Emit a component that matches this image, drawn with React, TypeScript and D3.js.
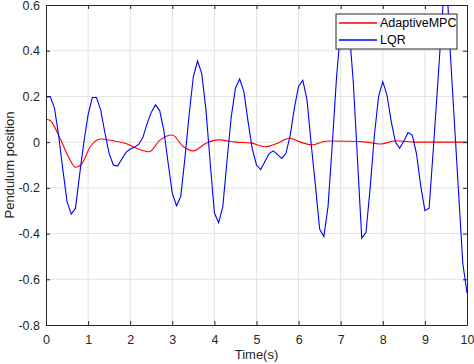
import React, {useEffect, useRef} from 'react'
import {select, scaleLinear, axisLeft, axisBottom, axisTop, axisRight, line, curveMonotoneX, curveLinear} from 'd3'

// time axis ticks / value axis ticks
const xTicks = [0, 1, 2, 3, 4, 5, 6, 7, 8, 9, 10]
const yTicks = [-0.8, -0.6, -0.4, -0.2, 0, 0.2, 0.4, 0.6]

// LQR response (sampled every 0.1 s, drawn as polyline)
const lqrT = [
    0, 0.1, 0.2, 0.3, 0.4, 0.5, 0.6, 0.7, 0.8, 0.9,
    1.0, 1.1, 1.2, 1.3, 1.4, 1.5, 1.6, 1.7, 1.8, 1.9,
    2.0, 2.1, 2.2, 2.3, 2.4, 2.5, 2.6, 2.7, 2.8, 2.9,
    3.0, 3.1, 3.2, 3.3, 3.4, 3.5, 3.6, 3.7, 3.8, 3.9,
    4.0, 4.1, 4.2, 4.3, 4.4, 4.5, 4.6, 4.7, 4.8, 4.9,
    5.0, 5.1, 5.2, 5.3, 5.4, 5.5, 5.6, 5.7, 5.8, 5.9,
    6.0, 6.1, 6.2, 6.3, 6.4, 6.5, 6.6, 6.7, 6.8, 6.9,
    7.0, 7.1, 7.2, 7.3, 7.4, 7.5, 7.6, 7.7, 7.8, 7.9,
    8.0, 8.1, 8.2, 8.3, 8.4, 8.5, 8.6, 8.7, 8.8, 8.9,
    9.0, 9.1, 9.2, 9.3, 9.4, 9.5, 9.6, 9.7, 9.8, 9.9, 10.0
]
const lqrY = [
    0.20, 0.20, 0.15, 0.03, -0.12, -0.26, -0.315, -0.29, -0.14, 0.0,
    0.12, 0.195, 0.195, 0.14, 0.04, -0.05, -0.10, -0.105, -0.075, -0.045,
    -0.03, -0.022, -0.01, 0.02, 0.08, 0.13, 0.163, 0.138, 0.05, -0.09,
    -0.224, -0.278, -0.238, -0.07, 0.12, 0.287, 0.355, 0.30, 0.14, -0.09,
    -0.31, -0.352, -0.282, -0.08, 0.11, 0.236, 0.276, 0.221, 0.09, -0.03,
    -0.10, -0.12, -0.085, -0.05, -0.038, -0.055, -0.071, -0.049, 0.03, 0.15,
    0.245, 0.27, 0.185, -0.01, -0.19, -0.38, -0.413, -0.28, -0.01, 0.28,
    0.50, 0.55, 0.50, 0.26, -0.08, -0.42, -0.396, -0.2, 0.03, 0.2,
    0.265, 0.205, 0.09, 0.0, -0.027, 0.005, 0.042, 0.031, -0.05, -0.19,
    -0.30, -0.289, -0.03, 0.24, 0.52, 0.78, 0.40, 0.09, -0.22, -0.53, -0.66
]

// AdaptiveMPC response (smooth)
const mpcT = [0, 0.1, 0.2, 0.35, 0.55, 0.7, 0.85, 1.05, 1.3, 1.6, 1.9, 2.15, 2.45, 2.7, 3.0, 3.25, 3.5, 3.8, 4.1, 4.5, 4.85, 5.2, 5.5, 5.78, 6.05, 6.3, 6.7, 7.2, 7.6, 7.95, 8.3, 8.8, 9.3, 10]
const mpcY = [0.10, 0.095, 0.068, 0.01, -0.07, -0.11, -0.095, -0.02, 0.014, 0.006, -0.006, -0.027, -0.042, 0.008, 0.031, -0.018, -0.038, -0.005, 0.01, 0.0, -0.003, -0.02, -0.005, 0.017, 0.0, -0.012, 0.005, 0.004, 0.0, -0.008, 0.006, 0.0, 0.0, 0.0]

const seriesNames = ['AdaptiveMPC', 'LQR']
const colors = ['#ff0000', '#0000ff']

export default function App() {
    const ref = useRef(null)

    useEffect(() => {
        const width = 474
        const height = 364
        const m = {top: 5, left: 46, right: 7, bottom: 39}
        const pw = width - m.left - m.right
        const ph = height - m.top - m.bottom
        const font = 'Arial, "Liberation Sans", Helvetica, sans-serif'
        const axisColor = '#262626'

        const root = select(ref.current)
        root.selectAll('*').remove()
        const svg = root.append('svg')
            .attr('width', width)
            .attr('height', height)
            .style('position', 'absolute')
            .style('left', 0)
            .style('top', 0)
            .style('background', '#fff')

        const x = scaleLinear().domain([0, 10]).range([0, pw])
        const y = scaleLinear().domain([-0.8, 0.6]).range([ph, 0])

        svg.append('defs').append('clipPath').attr('id', 'plot-clip')
            .append('rect').attr('width', pw).attr('height', ph)

        const g = svg.append('g').attr('transform', `translate(${m.left},${m.top})`)

        // grid
        g.append('g').selectAll('line').data(xTicks.slice(1, -1)).enter().append('line')
            .attr('x1', d => x(d)).attr('x2', d => x(d)).attr('y1', 0).attr('y2', ph)
            .attr('stroke', '#e3e3e3').attr('stroke-width', 1)
        g.append('g').selectAll('line').data(yTicks.slice(1, -1)).enter().append('line')
            .attr('y1', d => y(d)).attr('y2', d => y(d)).attr('x1', 0).attr('x2', pw)
            .attr('stroke', '#e3e3e3').attr('stroke-width', 1)

        // lines
        const plot = g.append('g').attr('clip-path', 'url(#plot-clip)')
        const mpc = mpcT.map((t, i) => [t, mpcY[i]])
        const lqr = lqrT.map((t, i) => [t, lqrY[i]])
        plot.append('path').datum(mpc)
            .attr('fill', 'none').attr('stroke', colors[0]).attr('stroke-width', 1.1)
            .attr('d', line().x(d => x(d[0])).y(d => y(d[1])).curve(curveMonotoneX))
        plot.append('path').datum(lqr)
            .attr('fill', 'none').attr('stroke', colors[1]).attr('stroke-width', 1.1)
            .attr('d', line().x(d => x(d[0])).y(d => y(d[1])).curve(curveLinear))

        // axes, MATLAB style ticks pointing inward on all four sides
        const styleAxis = (sel) => {
            sel.selectAll('path').attr('stroke', axisColor)
            sel.selectAll('line').attr('stroke', axisColor)
            sel.selectAll('text').attr('fill', axisColor).style('font-family', font).style('font-size', '12.5px')
            sel.attr('font-size', null).attr('font-family', null)
        }
        const fmt = d => (d === 0 ? '0' : String(d))

        g.append('g').attr('transform', `translate(0,${ph})`)
            .call(axisBottom(x).tickValues(xTicks).tickSize(-4).tickSizeOuter(0).tickPadding(10).tickFormat(fmt))
            .call(styleAxis)
        g.append('g')
            .call(axisLeft(y).tickValues(yTicks).tickSize(-4).tickSizeOuter(0).tickPadding(6).tickFormat(fmt))
            .call(styleAxis)
        g.append('g')
            .call(axisTop(x).tickValues(xTicks).tickSize(-4).tickSizeOuter(0).tickFormat(() => ''))
            .call(styleAxis)
        g.append('g').attr('transform', `translate(${pw},0)`)
            .call(axisRight(y).tickValues(yTicks).tickSize(-4).tickSizeOuter(0).tickFormat(() => ''))
            .call(styleAxis)

        // axis titles
        svg.append('text')
            .attr('x', m.left + pw / 2).attr('y', 359)
            .attr('text-anchor', 'middle')
            .style('font-family', font).style('font-size', '13px').attr('fill', axisColor)
            .text('Time(s)')
        svg.append('text')
            .attr('transform', `translate(14,${m.top + ph / 2}) rotate(-90)`)
            .attr('text-anchor', 'middle')
            .style('font-family', font).style('font-size', '13px').attr('fill', axisColor)
            .text('Pendulum position')

        // legend
        const legendData = seriesNames.map((name, i) => ({name, color: colors[i], row: i}))
        const lg = svg.append('g').attr('transform', 'translate(336,14)')
        lg.append('rect').attr('width', 121).attr('height', 35)
            .attr('fill', '#fff').attr('stroke', axisColor).attr('stroke-width', 1)
        legendData.forEach(d => {
            const item = lg.append('g').attr('transform', `translate(0,${9 + d.row * 17})`)
            item.append('line').attr('x1', 3).attr('x2', 41).attr('y1', 0).attr('y2', 0)
                .attr('stroke', d.color).attr('stroke-width', 1.3)
            item.append('text').attr('x', 44).attr('y', 0).attr('dy', '0.35em')
                .style('font-family', font).style('font-size', '12.5px').attr('fill', '#000')
                .text(d.name)
        })
    }, [])

    return <div ref={ref}></div>
}
